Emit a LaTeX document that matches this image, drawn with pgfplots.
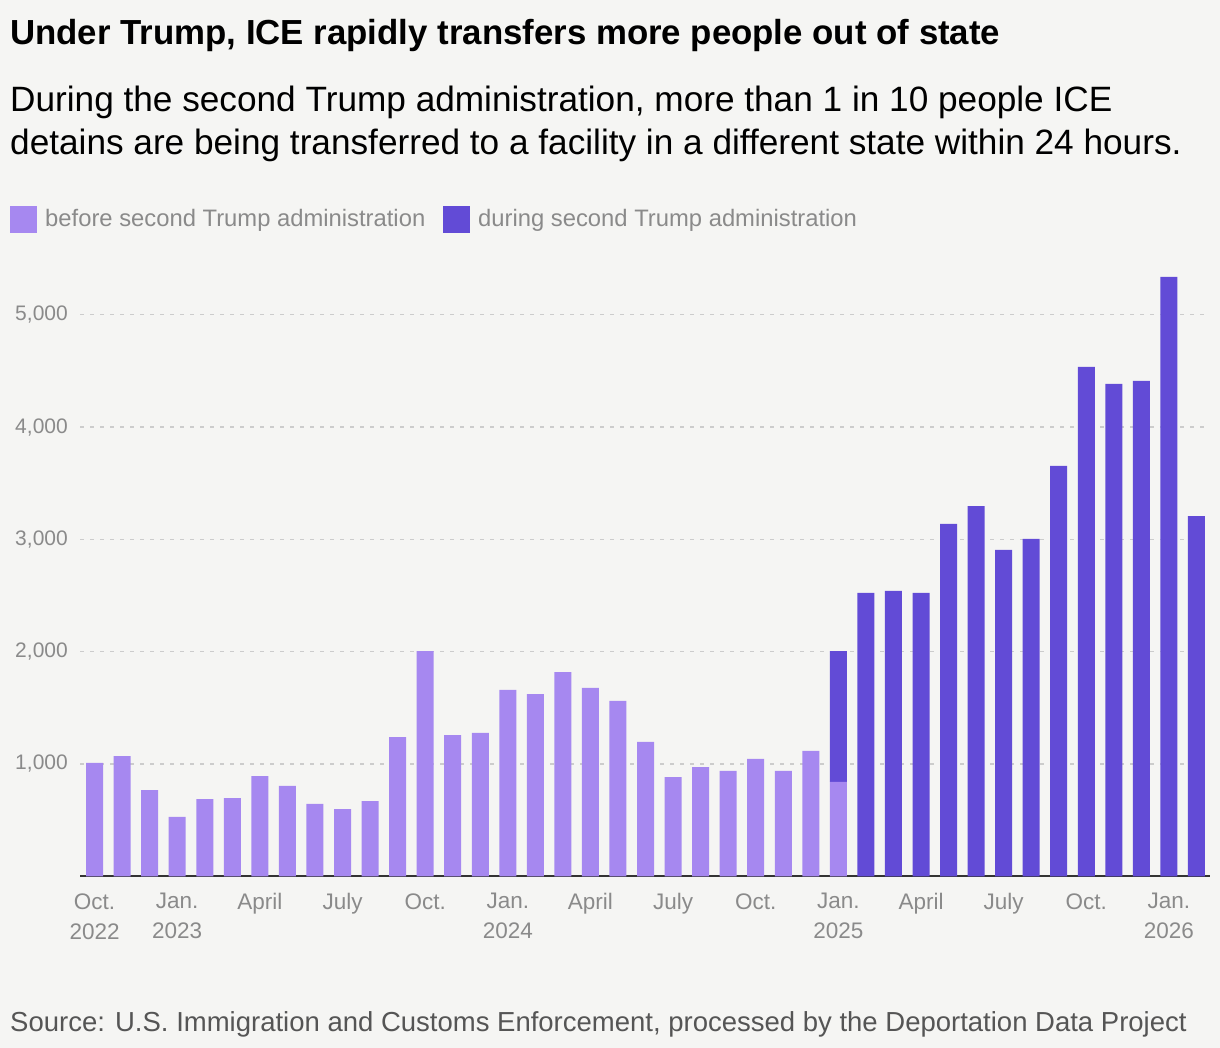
\documentclass[border=0pt]{standalone}
\usepackage{fontspec}
\setmainfont{Liberation Sans}
\usepackage{pgfplots}
\pgfplotsset{compat=1.18}
\definecolor{bg}{HTML}{F5F5F3}
\definecolor{before}{HTML}{A688F0}
\definecolor{during}{HTML}{624BD6}
\definecolor{tickc}{HTML}{8A8A8A}
\definecolor{gridc}{HTML}{CCCCCC}
\definecolor{srcc}{HTML}{555555}
\definecolor{basec}{HTML}{333333}
\pgfplotstableread{
idx before during
0  1010 0
1  1071 0
2  768  0
3  528  0
4  688  0
5  697  0
6  893  0
7  804  0
8  644  0
9  599  0
10 670  0
11 1240 0
12 2006 0
13 1258 0
14 1276 0
15 1659 0
16 1623 0
17 1819 0
18 1677 0
19 1561 0
20 1196 0
21 884  0
22 973  0
23 938  0
24 1045 0
25 938  0
26 1116 0
27 840  1166
28 0    2523
29 0    2541
30 0    2523
31 0    3137
32 0    3297
33 0    2906
34 0    3004
35 0    3654
36 0    4535
37 0    4384
38 0    4411
39 0    5337
40 0    3208
}\datatable
\begin{document}
\begin{tikzpicture}[x=1pt,y=1pt]
\fill[bg] (0,0) rectangle (1220,1048);
\node[anchor=base west, inner sep=0, font=\fontsize{34.8}{40}\selectfont\bfseries] at (10,1003) {Under Trump, ICE rapidly transfers more people out of state};
\node[anchor=base west, inner sep=0, font=\fontsize{35.2}{40}\selectfont] at (10,936) {During the second Trump administration, more than 1 in 10 people ICE};
\node[anchor=base west, inner sep=0, font=\fontsize{35.2}{40}\selectfont] at (10,893) {detains are being transferred to a facility in a different state within 24 hours.};
\fill[before] (10,815) rectangle (37,842);
\node[anchor=west, inner sep=0, text=tickc, font=\fontsize{23.8}{28}\selectfont] at (45,828) {before second Trump administration};
\fill[during] (443,815) rectangle (470,842);
\node[anchor=west, inner sep=0, text=tickc, font=\fontsize{23.8}{28}\selectfont] at (478,828) {during second Trump administration};
\node[anchor=base west, inner sep=0, text=srcc, font=\fontsize{27.5}{32}\selectfont] at (10,16) {Source: U.S. Immigration and Customs Enforcement, processed by the Deportation Data Project};
\begin{axis}[
  at={(80pt,171.7pt)}, anchor=south west,
  scale only axis, width=1130pt, height=617.7pt,
  xmin=-0.53, xmax=40.49, ymin=0, ymax=5500,
  ybar stacked, bar width=17pt,
  axis line style={draw=none},
  major tick length=0,
  ytick={1000,2000,3000,4000,5000},
  ymajorgrids,
  grid style={gridc, line width=1.5pt, dash pattern=on 4pt off 6pt},
  /pgf/number format/assume math mode=true,
  /pgf/number format/1000 sep={,},
  yticklabel style={text=tickc, font=\fontsize{21}{25}\selectfont, anchor=east, inner sep=0pt, xshift=-12pt},
  xtick={0,3,6,9,12,15,18,21,24,27,30,33,36,39},
  xticklabels={{Oct.\\2022},{Jan.\\2023},April,July,Oct.,{Jan.\\2024},April,July,Oct.,{Jan.\\2025},April,July,Oct.,{Jan.\\2026}},
  xticklabel style={text=tickc, font=\fontsize{22.5}{30}\selectfont, align=center, anchor=north, inner sep=0pt, yshift=-17pt},
  clip=false,
]
\addplot[fill=before, draw=none] table[x=idx, y=before] {\datatable};
\addplot[fill=during, draw=none] table[x=idx, y=during] {\datatable};
\draw[basec, line width=2pt] (axis cs:-0.53,0) -- (axis cs:40.49,0);
\end{axis}
\end{tikzpicture}
\end{document}
